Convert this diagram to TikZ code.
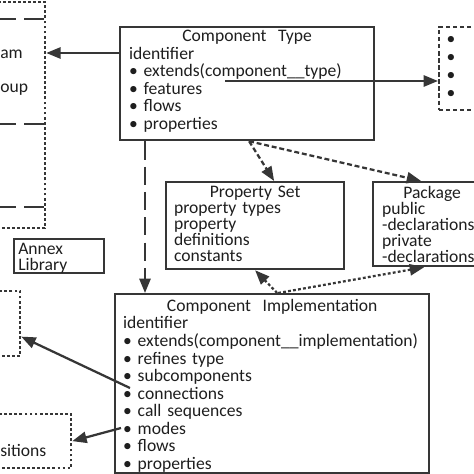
\documentclass[tikz,border=0pt]{standalone}
\usepackage{fontspec}
\setmainfont{Carlito}
\usetikzlibrary{arrows.meta}

\newlength\pxu
\setlength\pxu{0.025cm}
\setlength\lineskiplimit{-20pt}
\hyphenpenalty=10000
\exhyphenpenalty=10000
\definecolor{dunkel}{HTML}{363636}
\definecolor{schwarz}{HTML}{1E1E1E}

\tikzset{
	kasten/.style={draw=dunkel, line width=1.6pt, inner sep=0pt, anchor=north west},
	punktkasten/.style={kasten, dash pattern=on 2pt off 1.6pt},
	strichkasten/.style={kasten, dash pattern=on 3pt off 2pt},
	schrift/.style={text=schwarz, inner sep=0pt, align=left, font=\fontsize{12.5}{12.45}\selectfont},
	engschrift/.style={schrift, font=\fontsize{12.5}{11.4}\selectfont},
	pfeil/.style={draw=dunkel, line width=1.6pt, -{Triangle[length=3.6mm,width=2.8mm]}},
	gestrichelt/.style={dash pattern=on 3.5pt off 2pt},
	gepunktet/.style={dash pattern=on 2pt off 1.6pt},
	langstrich/.style={dash pattern=on 13pt off 5pt},
}

\begin{document}
\begin{tikzpicture}[x=0.025cm, y=-0.025cm]
	\clip (0,0) rectangle (474,474);
	
	% Kaesten links (abgeschnitten)
	\node[punktkasten, minimum width=104\pxu, minimum height=226\pxu] (lo) at (-60,1) {};
	\draw[dunkel, line width=1.6pt, dash pattern=on 14pt off 6pt] (44,19) -- (-60,19);
	\draw[dunkel, line width=1.6pt, dash pattern=on 14pt off 6pt] (44,124) -- (-60,124);
	\draw[dunkel, line width=1.6pt, dash pattern=on 14pt off 6pt] (44,207) -- (-60,207);
	\node[schrift, anchor=west] (lo-am) at (0,54) {am};
	\node[schrift, anchor=west] (lo-oup) at (0,90) {oup};
	
	\node[punktkasten, minimum width=79\pxu, minimum height=65\pxu] (lm) at (-60,290) {};
	\node[punktkasten, minimum width=130\pxu, minimum height=54\pxu] (lu) at (-60,413) {};
	\node[schrift, anchor=west] (lu-text) at (0,450) {sitions};
	
	% Kasten rechts oben
	\node[strichkasten, minimum width=80\pxu, minimum height=83\pxu] (ro) at (438,26) {};
	\foreach \y in {40,58,76,94}
		\node[schrift] (ro-\y) at (451,\y) {\textbullet};
	
	% Component Type
	\node[kasten, minimum width=254\pxu, minimum height=113\pxu] (ctyp) at (119,26) {};
	\node[schrift, text width=236\pxu, anchor=north] (ctyp-text) at ([yshift=-4\pxu]ctyp.north)
		{\hfill Component~~Type\hfill\mbox{}\\
		identifier\\
		\textbullet~extends(component\_\_type)\\
		\textbullet~features\\
		\textbullet~flows\\
		\textbullet~properties};
	
	% Property Set + Package
	\node[kasten, minimum width=178\pxu, minimum height=87\pxu] (pset) at (165,181) {};
	\node[engschrift, text width=162\pxu, anchor=north] (pset-text) at ([yshift=-5\pxu]pset.north)
		{\hfill Property Set\hfill\mbox{}\\
		property types\\
		property\\
		definitions\\
		constants};
	
	\node[kasten, minimum width=118\pxu, minimum height=84\pxu] (paket) at (372,181) {};
	\node[engschrift, text width=100\pxu, anchor=north] (paket-text) at ([yshift=-5\pxu]paket.north)
		{\hfill Package\hfill\mbox{}\\
		public\\
		-declarations\\
		private\\
		-declarations};
	
	% Annex Library
	\node[kasten, minimum width=90\pxu, minimum height=34\pxu] (annex) at (13,238) {};
	\node[engschrift, anchor=north west] (annex-text) at ([xshift=5\pxu, yshift=-5\pxu]annex.north west)
		{Annex\\ Library};
	
	% Component Implementation
	\node[kasten, minimum width=314\pxu, minimum height=179\pxu] (cimpl) at (114,293) {};
	\node[schrift, text width=298\pxu, anchor=north] (cimpl-text) at ([yshift=-6\pxu]cimpl.north)
		{\hfill Component~~Implementation\hfill\mbox{}\\
		identifier\\
		\textbullet~extends(component\_\_implementation)\\
		\textbullet~refines type\\
		\textbullet~subcomponents\\
		\textbullet~connections\\
		\textbullet~call sequences\\
		\textbullet~modes\\
		\textbullet~flows\\
		\textbullet~properties};
	
	% Pfeile
	\coordinate (ct-id) at (119,53);
	\coordinate (ct-ext) at (225,81);
	\coordinate (ct-ab) at ([xshift=26\pxu]ctyp.south west);
	\coordinate (ci-con) at (130,388);
	\coordinate (ci-mod) at (121,428);
	
	\draw[pfeil] (ct-id) -- (lo.east |- ct-id);
	\draw[pfeil] (ct-ext) -- (ro.west |- ct-ext);
	\draw[pfeil, gestrichelt] ([xshift=2\pxu]ctyp.south) -- ([xshift=19\pxu]pset.north);
	\draw[pfeil, gestrichelt] ([xshift=2\pxu]ctyp.south) -- ([xshift=-11\pxu]paket.north);
	\draw[pfeil, langstrich] (ct-ab) -- (ct-ab |- cimpl.north);
	\draw[pfeil, gepunktet] ([xshift=5\pxu]cimpl.north) -- (pset.south);
	\draw[pfeil, gepunktet] ([xshift=6\pxu]cimpl.north) -- ([xshift=-8\pxu]paket.south);
	\draw[pfeil] (ci-con) -- ([yshift=-13\pxu]lm.east);
	\draw[pfeil] (ci-mod) -- (lu.east);
\end{tikzpicture}
\end{document}
